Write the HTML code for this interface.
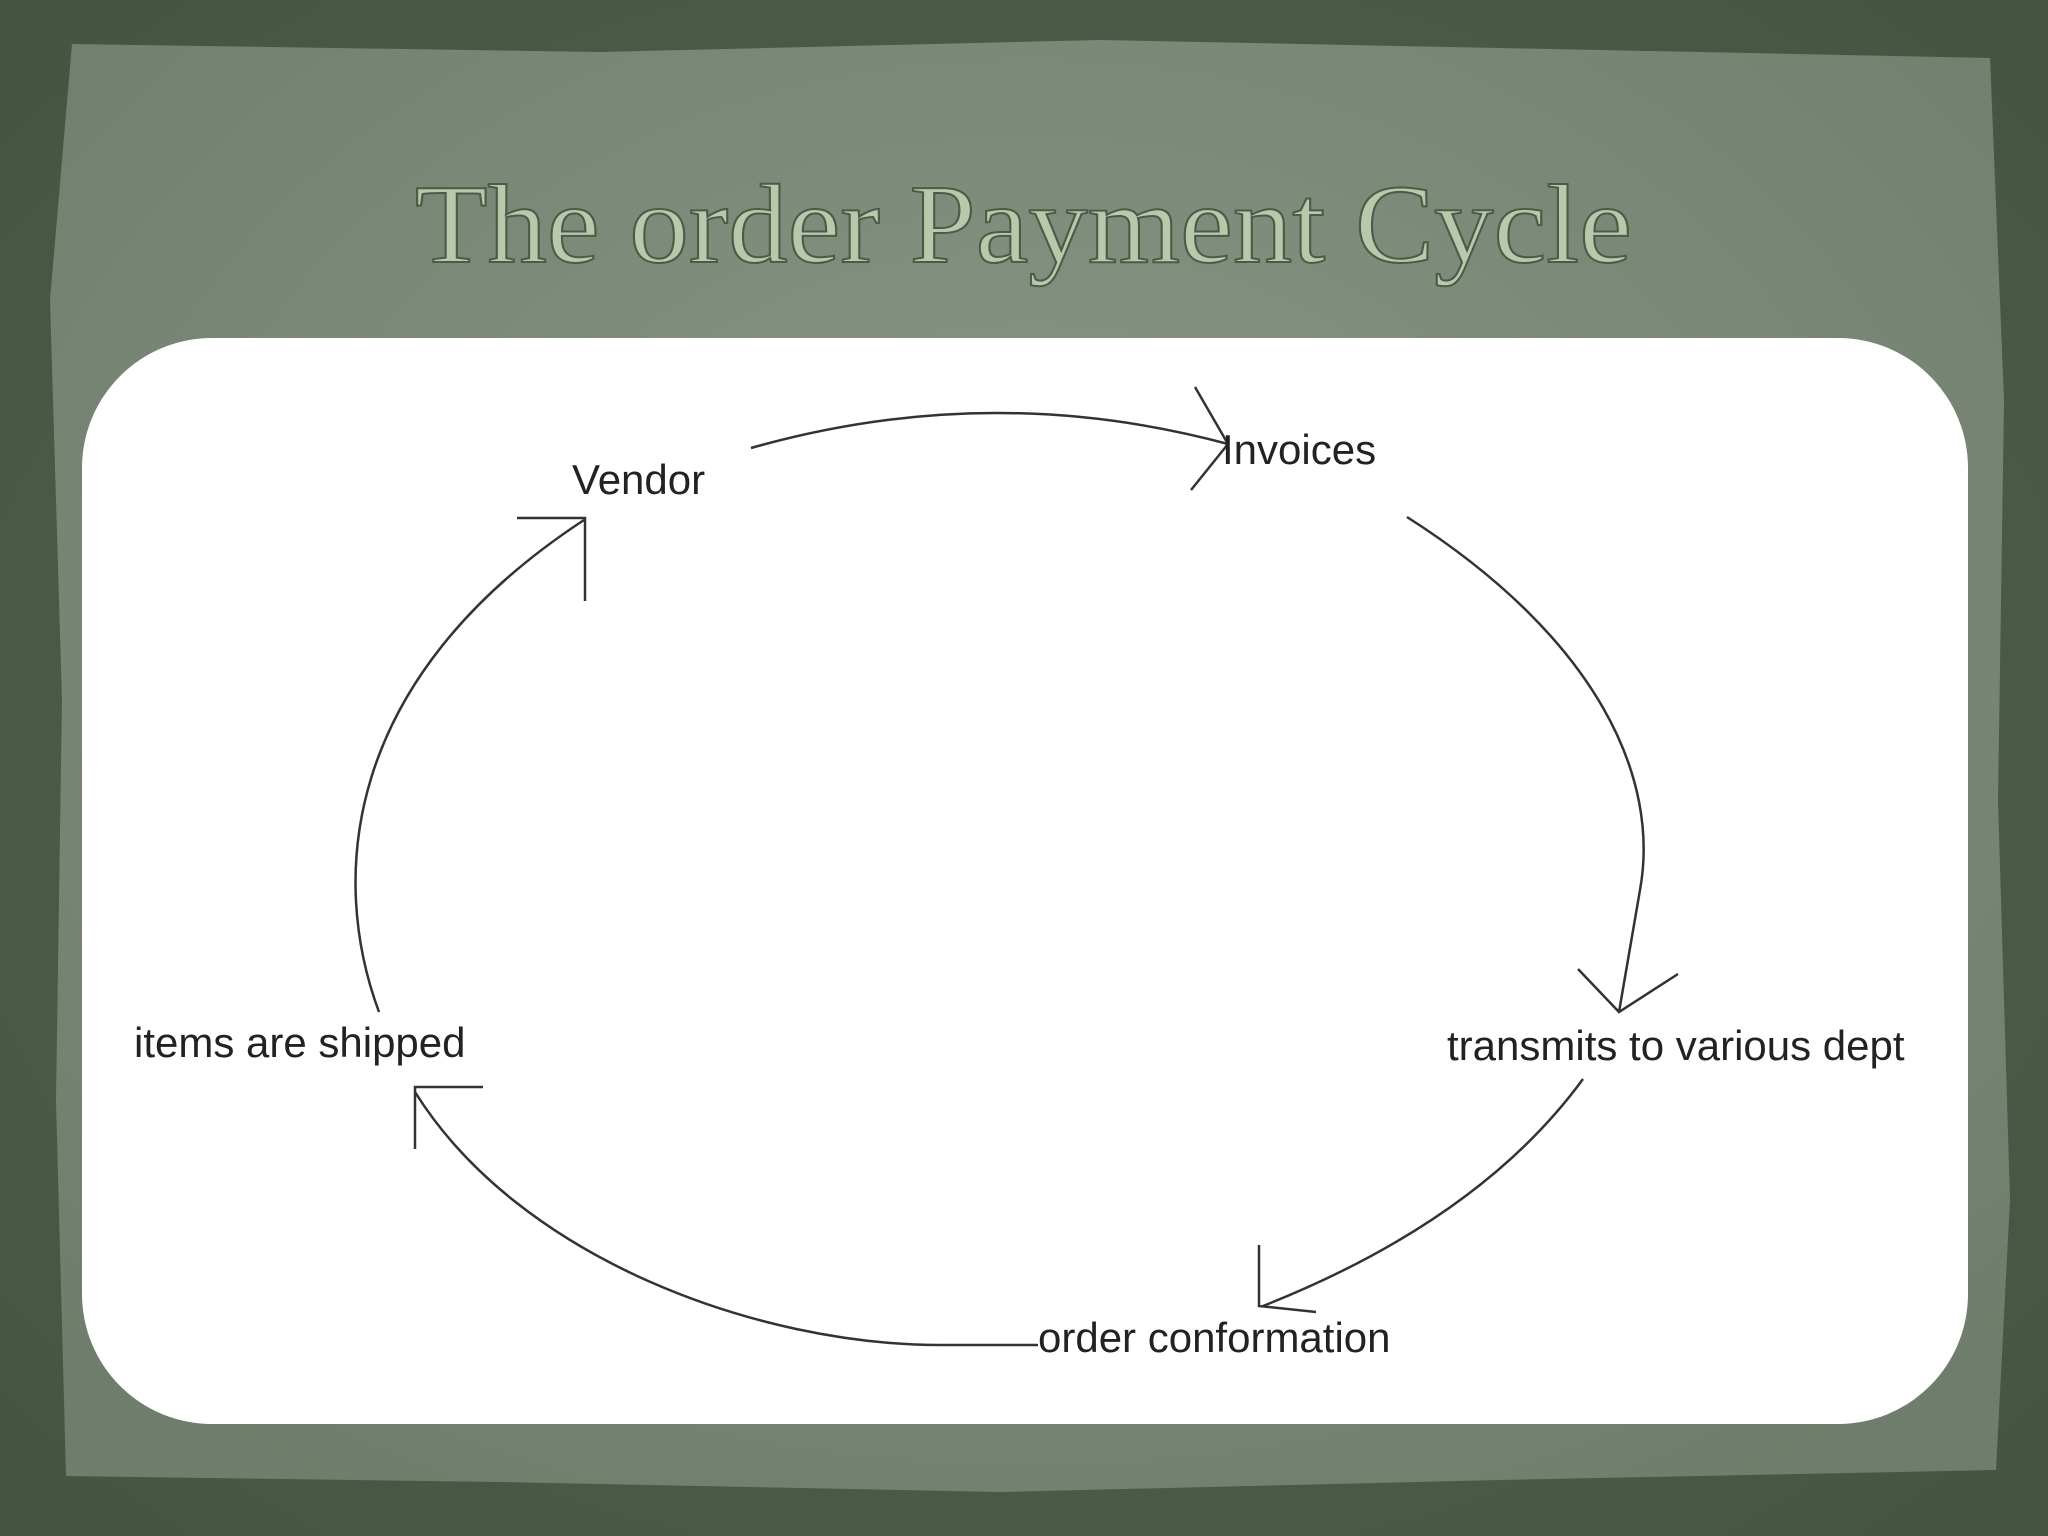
<!DOCTYPE html>
<html><head><meta charset="utf-8"><style>
html,body{margin:0;padding:0;width:2048px;height:1536px;overflow:hidden;background:#4e5d49;}
</style></head><body>
<svg width="2048" height="1536" viewBox="0 0 2048 1536" xmlns="http://www.w3.org/2000/svg">
<defs>
<radialGradient id="pg" cx="50%" cy="40%" r="70%">
<stop offset="0" stop-color="#8a9787"/><stop offset="1" stop-color="#6f7d6c"/>
</radialGradient>
<radialGradient id="bg" cx="50%" cy="50%" r="75%">
<stop offset="0" stop-color="#56654f"/><stop offset="1" stop-color="#44523f"/>
</radialGradient>
</defs>
<rect width="2048" height="1536" fill="url(#bg)"/>
<path d="M72 44 L600 52 L1100 40 L1600 50 L1990 58 L2004 400 L1998 800 L2010 1200 L1996 1470 L1500 1480 L1000 1492 L500 1482 L66 1476 L56 1100 L62 700 L50 300 Z" fill="url(#pg)"/>
<text x="415" y="262" textLength="1217" lengthAdjust="spacingAndGlyphs" font-family="Liberation Serif, serif" font-size="112" fill="#b9c8ab" stroke="#4c5a47" stroke-width="2">The order Payment Cycle</text>
<rect x="82" y="338" width="1886" height="1086" rx="130" ry="130" fill="#fff"/>
<g fill="none" stroke="#333" stroke-width="2.5">
<path d="M751 448 Q990 380 1228 444"/>
<path d="M1195 387 L1228 444 L1191 490"/>
<path d="M1407 517 C1600 640 1660 780 1640 890 L1619 1012"/>
<path d="M1578 969 L1619 1012 L1678 974"/>
<path d="M1583 1079 Q1480 1220 1263 1306"/>
<path d="M1259 1245 L1259 1306 L1316 1312"/>
<path d="M1038 1345 L940 1345 C760 1345 520 1260 415 1092"/>
<path d="M415 1149 L415 1087 L483 1087"/>
<path d="M379 1012 C330 880 340 680 584 520"/>
<path d="M517 518 L585 518 L585 601"/>
</g>
<g font-family="Liberation Sans, sans-serif" font-size="42" fill="#222">
<text x="572" y="494">Vendor</text>
<text x="1222" y="464">Invoices</text>
<text x="1447" y="1060">transmits to various dept</text>
<text x="1038" y="1352">order conformation</text>
<text x="134" y="1057">items are shipped</text>
</g>
</svg>
</body></html>
